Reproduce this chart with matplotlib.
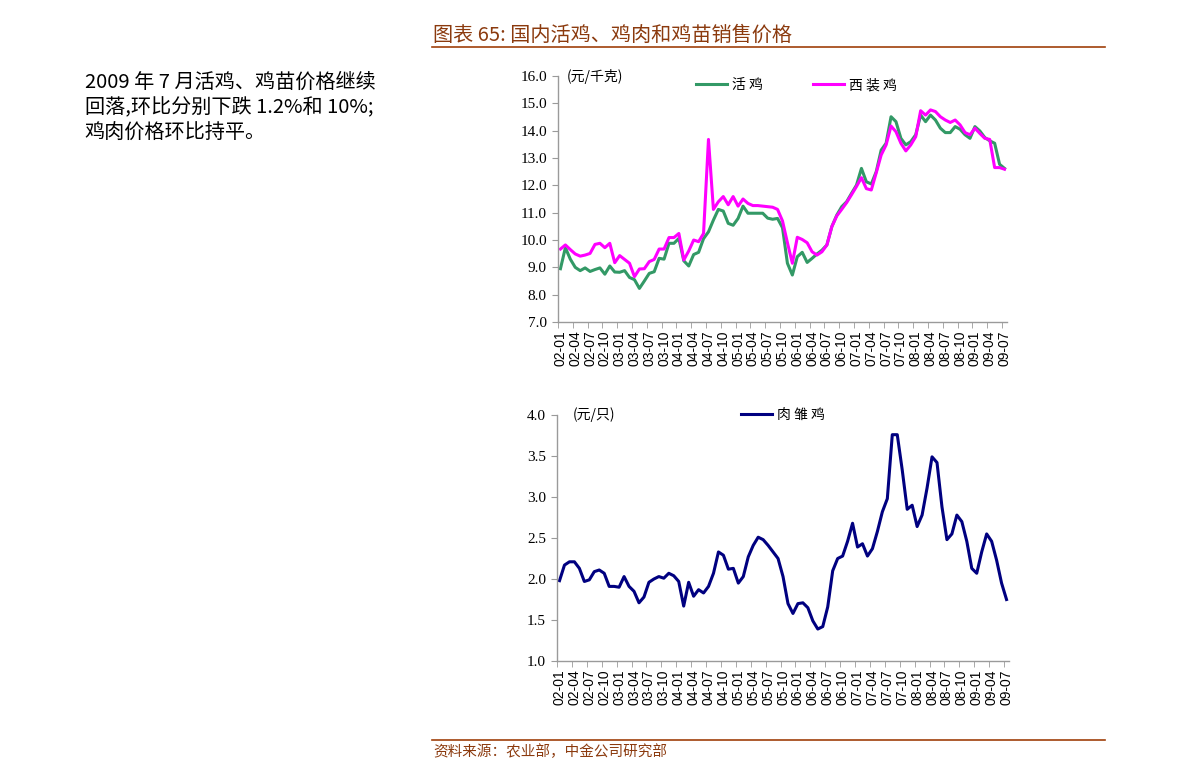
import numpy as np
import matplotlib
matplotlib.use('Agg')
import matplotlib.pyplot as plt
from matplotlib.lines import Line2D

plt.rcParams['font.family'] = ['Noto Sans CJK SC', 'DejaVu Sans']

# monthly data 2002-01 .. 2009-07
months = [f'{y:02d}-{m:02d}' for y in range(2, 10) for m in range(1, 13)][:91]

live_chicken = [
    8.95, 9.72, 9.30, 9.00, 8.88, 8.98, 8.85, 8.92, 8.98, 8.75,
    9.05, 8.83, 8.82, 8.88, 8.63, 8.55, 8.23, 8.50, 8.78, 8.84,
    9.33, 9.30, 9.88, 9.88, 10.06, 9.24, 9.05, 9.47, 9.55, 10.05,
    10.30, 10.73, 11.12, 11.06, 10.61, 10.54, 10.79, 11.24, 10.98, 10.98,
    10.98, 10.98, 10.80, 10.76, 10.79, 10.45, 9.15, 8.72, 9.39, 9.55,
    9.18, 9.33, 9.49, 9.63, 9.82, 10.49, 10.91, 11.22, 11.40, 11.71,
    12.01, 12.62, 12.13, 12.05, 12.50, 13.29, 13.54, 14.51, 14.33, 13.72,
    13.48, 13.60, 13.85, 14.57, 14.33, 14.57, 14.39, 14.09, 13.93, 13.93,
    14.15, 14.05, 13.85, 13.72, 14.15, 13.99, 13.75, 13.63, 13.54, 12.77,
    12.62]

western_chicken = [
    9.67, 9.82, 9.65, 9.49, 9.41, 9.45, 9.51, 9.84, 9.88, 9.72,
    9.88, 9.17, 9.43, 9.29, 9.15, 8.66, 8.94, 8.95, 9.21, 9.29,
    9.67, 9.67, 10.09, 10.09, 10.24, 9.27, 9.60, 10.00, 9.94, 10.24,
    13.68, 11.12, 11.40, 11.59, 11.29, 11.59, 11.24, 11.50, 11.34, 11.26,
    11.26, 11.24, 11.22, 11.20, 11.12, 10.70, 9.90, 9.15, 10.10, 10.02,
    9.90, 9.57, 9.45, 9.57, 9.82, 10.49, 10.88, 11.12, 11.37, 11.66,
    11.96, 12.28, 11.88, 11.83, 12.46, 13.11, 13.48, 14.17, 13.96, 13.54,
    13.26, 13.48, 13.78, 14.73, 14.57, 14.76, 14.70, 14.51, 14.39, 14.30,
    14.39, 14.21, 13.93, 13.85, 14.09, 13.90, 13.72, 13.68, 12.65, 12.65,
    12.59]

chick = [
    1.98, 2.17, 2.21, 2.21, 2.13, 1.97, 1.99, 2.09, 2.11, 2.07,
    1.91, 1.91, 1.90, 2.03, 1.91, 1.85, 1.71, 1.78, 1.96, 2.00,
    2.03, 2.01, 2.07, 2.04, 1.97, 1.67, 1.96, 1.79, 1.87, 1.83,
    1.91, 2.07, 2.33, 2.29, 2.12, 2.13, 1.95, 2.03, 2.27, 2.41,
    2.51, 2.48, 2.41, 2.33, 2.25, 2.03, 1.70, 1.58, 1.70, 1.71,
    1.65, 1.49, 1.39, 1.42, 1.66, 2.10, 2.25, 2.28, 2.46, 2.68,
    2.39, 2.43, 2.28, 2.37, 2.58, 2.82, 2.98, 3.76, 3.76, 3.33,
    2.85, 2.90, 2.64, 2.78, 3.11, 3.49, 3.42, 2.88, 2.48, 2.55,
    2.78, 2.70, 2.46, 2.13, 2.07, 2.33, 2.55, 2.46, 2.23, 1.95,
    1.75]

x = np.arange(len(months))

fig = plt.figure(figsize=(11.91, 7.82), dpi=100)

brown = '#8B3A0E'
line_brown = '#A0400A'
grey = '#9A9A9A'


def style_axes(ax, ylo, yhi, ystep):
    for s in ['top', 'right']:
        ax.spines[s].set_visible(False)
    for s in ['left', 'bottom']:
        ax.spines[s].set_color(grey)
        ax.spines[s].set_linewidth(1.0)
    ax.set_xlim(-0.5, len(months) - 0.5)
    ax.set_ylim(ylo, yhi)
    yt = np.arange(ylo, yhi + ystep / 2, ystep)
    ax.set_yticks(yt)
    ax.set_yticklabels([f'{v:.1f}' for v in yt], family='Liberation Serif', fontsize=11)
    ax.tick_params(axis='y', direction='out', length=4, color=grey, pad=4)
    ax.set_xticks(x[::3])
    ax.set_xticklabels(months[::3], rotation=90, family='Liberation Sans', fontsize=10)
    ax.set_xticks(np.arange(-0.5, len(months) - 1, 3), minor=True)
    ax.tick_params(axis='x', which='major', length=0, pad=6)
    ax.tick_params(axis='x', which='minor', direction='out', length=4, color=grey)


# top chart
ax1 = fig.add_axes([0.4685, 0.5882, 0.377, 0.3146])
ax1.plot(x, live_chicken, color='#339966', lw=2.2, label='活 鸡')
ax1.plot(x, western_chicken, color='#FF00FF', lw=2.2, label='西 装 鸡')
style_axes(ax1, 7.0, 16.0, 1.0)
ax1.text(0.02, 1.0, '(元/千克)', transform=ax1.transAxes, fontsize=10, va='center')
ax1.legend(loc='center left', bbox_to_anchor=(0.28, 0.963), ncol=2, frameon=False,
           fontsize=10, handlelength=2.2, columnspacing=3.6, handletextpad=0.4)

# bottom chart
ax2 = fig.add_axes([0.4677, 0.1547, 0.3795, 0.3146])
ax2.plot(x, chick, color='#000080', lw=2.2, label='肉 雏 鸡')
style_axes(ax2, 1.0, 4.0, 0.5)
ax2.text(0.035, 1.0, '(元/只)', transform=ax2.transAxes, fontsize=10, va='center')
ax2.legend(loc='center left', bbox_to_anchor=(0.38, 1.0), frameon=False,
           fontsize=10, handlelength=2.2, handletextpad=0.4)

# title and source
fig.text(0.3635, 0.955, '图表 65: 国内活鸡、鸡肉和鸡苗销售价格', color=brown,
         fontsize=14.5, va='center', style='italic')
fig.add_artist(Line2D([0.3627, 0.9278], [0.94, 0.94], color=line_brown, lw=1.2,
                      transform=fig.transFigure))
fig.add_artist(Line2D([0.3627, 0.9278], [0.0537, 0.0537], color=line_brown, lw=1.2,
                      transform=fig.transFigure))
fig.text(0.3635, 0.0384, '资料来源：农业部，中金公司研究部', color=brown,
         fontsize=10.5, va='center', style='italic')

# commentary
lines = ['2009 年 7 月活鸡、鸡苗价格继续',
         '回落,环比分别下跌 1.2%和 10%;',
         '鸡肉价格环比持平。']
for k, t in enumerate(lines):
    fig.text(0.071, 0.895 - k * 0.0325, t, fontsize=14.5, va='center')

fig.savefig('out.png', dpi=100)
